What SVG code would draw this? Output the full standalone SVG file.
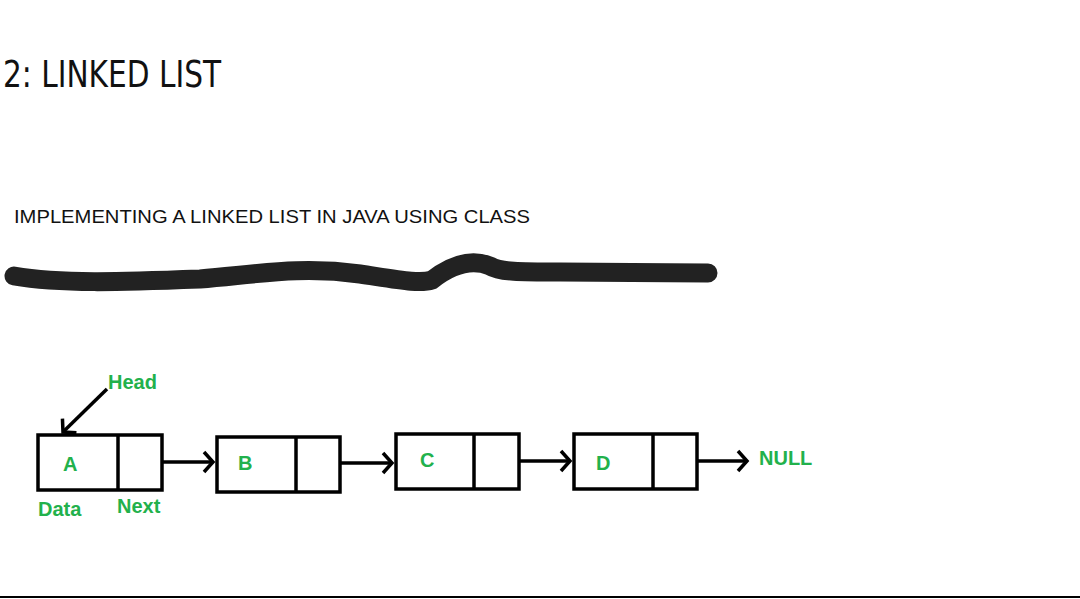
<svg xmlns="http://www.w3.org/2000/svg" width="1080" height="599" viewBox="0 0 1080 599">
<style>
.box{fill:none;stroke:#000;stroke-width:3.5}
.lbl{font-family:"Liberation Sans",Arial,sans-serif;font-weight:bold;fill:#22b14c;font-size:20px}
.ar{stroke:#000;stroke-width:3.5;fill:none}
</style>
<defs><marker id="ah" markerWidth="14" markerHeight="24" refX="11" refY="12" orient="auto" markerUnits="userSpaceOnUse"><path d="M2,2 L11,12 L2,22" fill="none" stroke="#000" stroke-width="3.5"/></marker></defs>
<rect width="1080" height="599" fill="#fff"/>
<text x="3" y="87" font-family="'DejaVu Sans',sans-serif" font-size="38" textLength="218" lengthAdjust="spacingAndGlyphs" fill="#111">2: LINKED LIST</text>
<text x="14" y="223" font-family="'Liberation Sans',Arial,sans-serif" font-size="18" textLength="516" lengthAdjust="spacingAndGlyphs" fill="#111">IMPLEMENTING A LINKED LIST IN JAVA USING CLASS</text>
<path d="M14,276 C60,284 120,282 200,279 C260,274 300,266 360,274 C400,280 420,284 432,280 C450,266 470,258 490,266 C500,272 520,272 560,272 C620,272 660,273 708,273" stroke="#222" stroke-width="19" stroke-linecap="round" stroke-linejoin="round" fill="none"/>
<g id="nodeA"><rect class="box" x="38" y="435" width="124" height="55"/><line class="box" x1="118" y1="435" x2="118" y2="490"/><text class="lbl" x="63" y="471">A</text></g>
<g id="nodeB"><rect class="box" x="217" y="437" width="123" height="55"/><line class="box" x1="296" y1="437" x2="296" y2="492"/><text class="lbl" x="238" y="470">B</text></g>
<g id="nodeC"><rect class="box" x="396" y="434" width="123" height="55"/><line class="box" x1="474" y1="434" x2="474" y2="489"/><text class="lbl" x="420" y="467">C</text></g>
<g id="nodeD"><rect class="box" x="574" y="434" width="123" height="55"/><line class="box" x1="653" y1="434" x2="653" y2="489"/><text class="lbl" x="596" y="470">D</text></g>
<g id="labels">
<text class="lbl" x="108" y="389">Head</text>
<text class="lbl" x="38" y="516">Data</text>
<text class="lbl" x="117" y="513">Next</text>
<text class="lbl" x="759" y="465">NULL</text>
</g>
<g id="connectors">
<line class="ar" x1="107" y1="389" x2="63" y2="432" marker-end="url(#ah)"/>
<line class="ar" x1="162" y1="462" x2="213" y2="462" marker-end="url(#ah)"/>
<line class="ar" x1="340" y1="463" x2="392" y2="463" marker-end="url(#ah)"/>
<line class="ar" x1="519" y1="461" x2="570" y2="461" marker-end="url(#ah)"/>
<line class="ar" x1="697" y1="461" x2="747" y2="461" marker-end="url(#ah)"/>
</g>
<line x1="0" y1="597" x2="1080" y2="597" stroke="#000" stroke-width="2"/>
</svg>
